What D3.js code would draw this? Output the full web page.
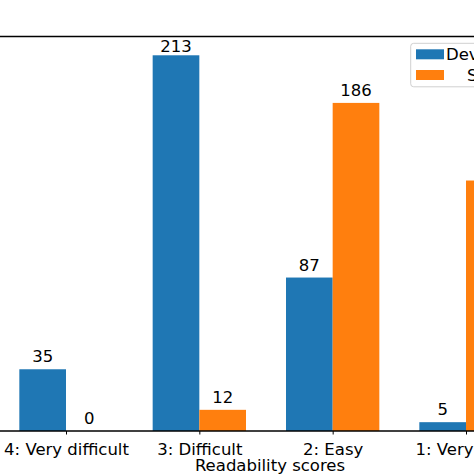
<!DOCTYPE html>
<html><head><meta charset="utf-8">
<script src="https://cdn.jsdelivr.net/npm/d3@7"></script>
<style>body{margin:0;background:#fff}svg{display:block;font-family:"DejaVu Sans",sans-serif}</style>
</head><body>
<script>
const categories = ["4: Very difficult", "3: Difficult", "2: Easy", "1: Very easy"];
const seriesNames = ["Developers", "    Students"];
const developers = [35, 213, 87, 5];
const students = [0, 12, 186, 142];
const colors = ["#1f77b4", "#ff7f0e"];

const W = 474, H = 474, FS = 16.5;
const svg = d3.select("body").append("svg").attr("width", W).attr("height", H);

const x = d3.scaleLinear().domain([0, 3]).range([66, 466]);
const y = d3.scaleLinear().domain([0, 213 * 1.05]).range([431, 36.5]);
const barW = (x(1) - x(0)) * 0.35;

const series = [developers, students];
series.forEach((vals, si) => {
  const g = svg.append("g");
  g.selectAll("rect").data(vals).join("rect")
    .attr("x", (d, i) => si === 0 ? x(i) - barW : x(i))
    .attr("y", d => y(d))
    .attr("width", barW)
    .attr("height", d => y(0) - y(d))
    .attr("fill", colors[si]);
  g.selectAll("text").data(vals).join("text")
    .attr("x", (d, i) => (si === 0 ? x(i) - barW / 2 : x(i) + barW / 2))
    .attr("y", d => Math.max(y(d) - 7, 52))
    .attr("text-anchor", "middle")
    .attr("font-size", FS)
    .attr("fill", "#000")
    .text(d => d);
});

// top spine
svg.append("line").attr("x1", -10).attr("x2", W + 10).attr("y1", y.range()[1]).attr("y2", y.range()[1])
  .attr("stroke", "#000").attr("stroke-width", 1.3);

const xAxis = d3.axisBottom(x).tickValues([0, 1, 2, 3]).tickFormat(i => categories[i])
  .tickSize(3.5).tickPadding(8.5).tickSizeOuter(0);
const ax = svg.append("g").attr("transform", `translate(0,${y(0)})`).call(xAxis);
ax.select(".domain").remove();
ax.append("line").attr("x1", -10).attr("x2", W + 10).attr("stroke", "#000").attr("stroke-width", 1.3);
ax.selectAll(".tick line").attr("stroke", "#000").attr("stroke-width", 1);
ax.selectAll(".tick text").attr("font-size", FS).attr("font-family", "DejaVu Sans").attr("fill", "#000");

svg.append("text").attr("x", 270).attr("y", 471).attr("text-anchor", "middle")
  .attr("font-size", FS).attr("fill", "#000").text("Readability scores");

// legend
const lg = svg.append("g");
lg.append("rect").attr("x", 410.7).attr("y", 43.3).attr("width", 120).attr("height", 43.5)
  .attr("rx", 3).attr("fill", "#fff").attr("fill-opacity", 0.8).attr("stroke", "#d0d0d0");
seriesNames.forEach((n, i) => {
  const cy = 54.3 + i * 20.7;
  lg.append("rect").attr("x", 416).attr("y", cy - 5).attr("width", 28).attr("height", 10).attr("fill", colors[i]);
  lg.append("text").attr("x", 446).attr("y", cy + 6).attr("font-size", FS)
    .style("white-space", "pre").attr("fill", "#000").text(n);
});
</script>
</body></html>
